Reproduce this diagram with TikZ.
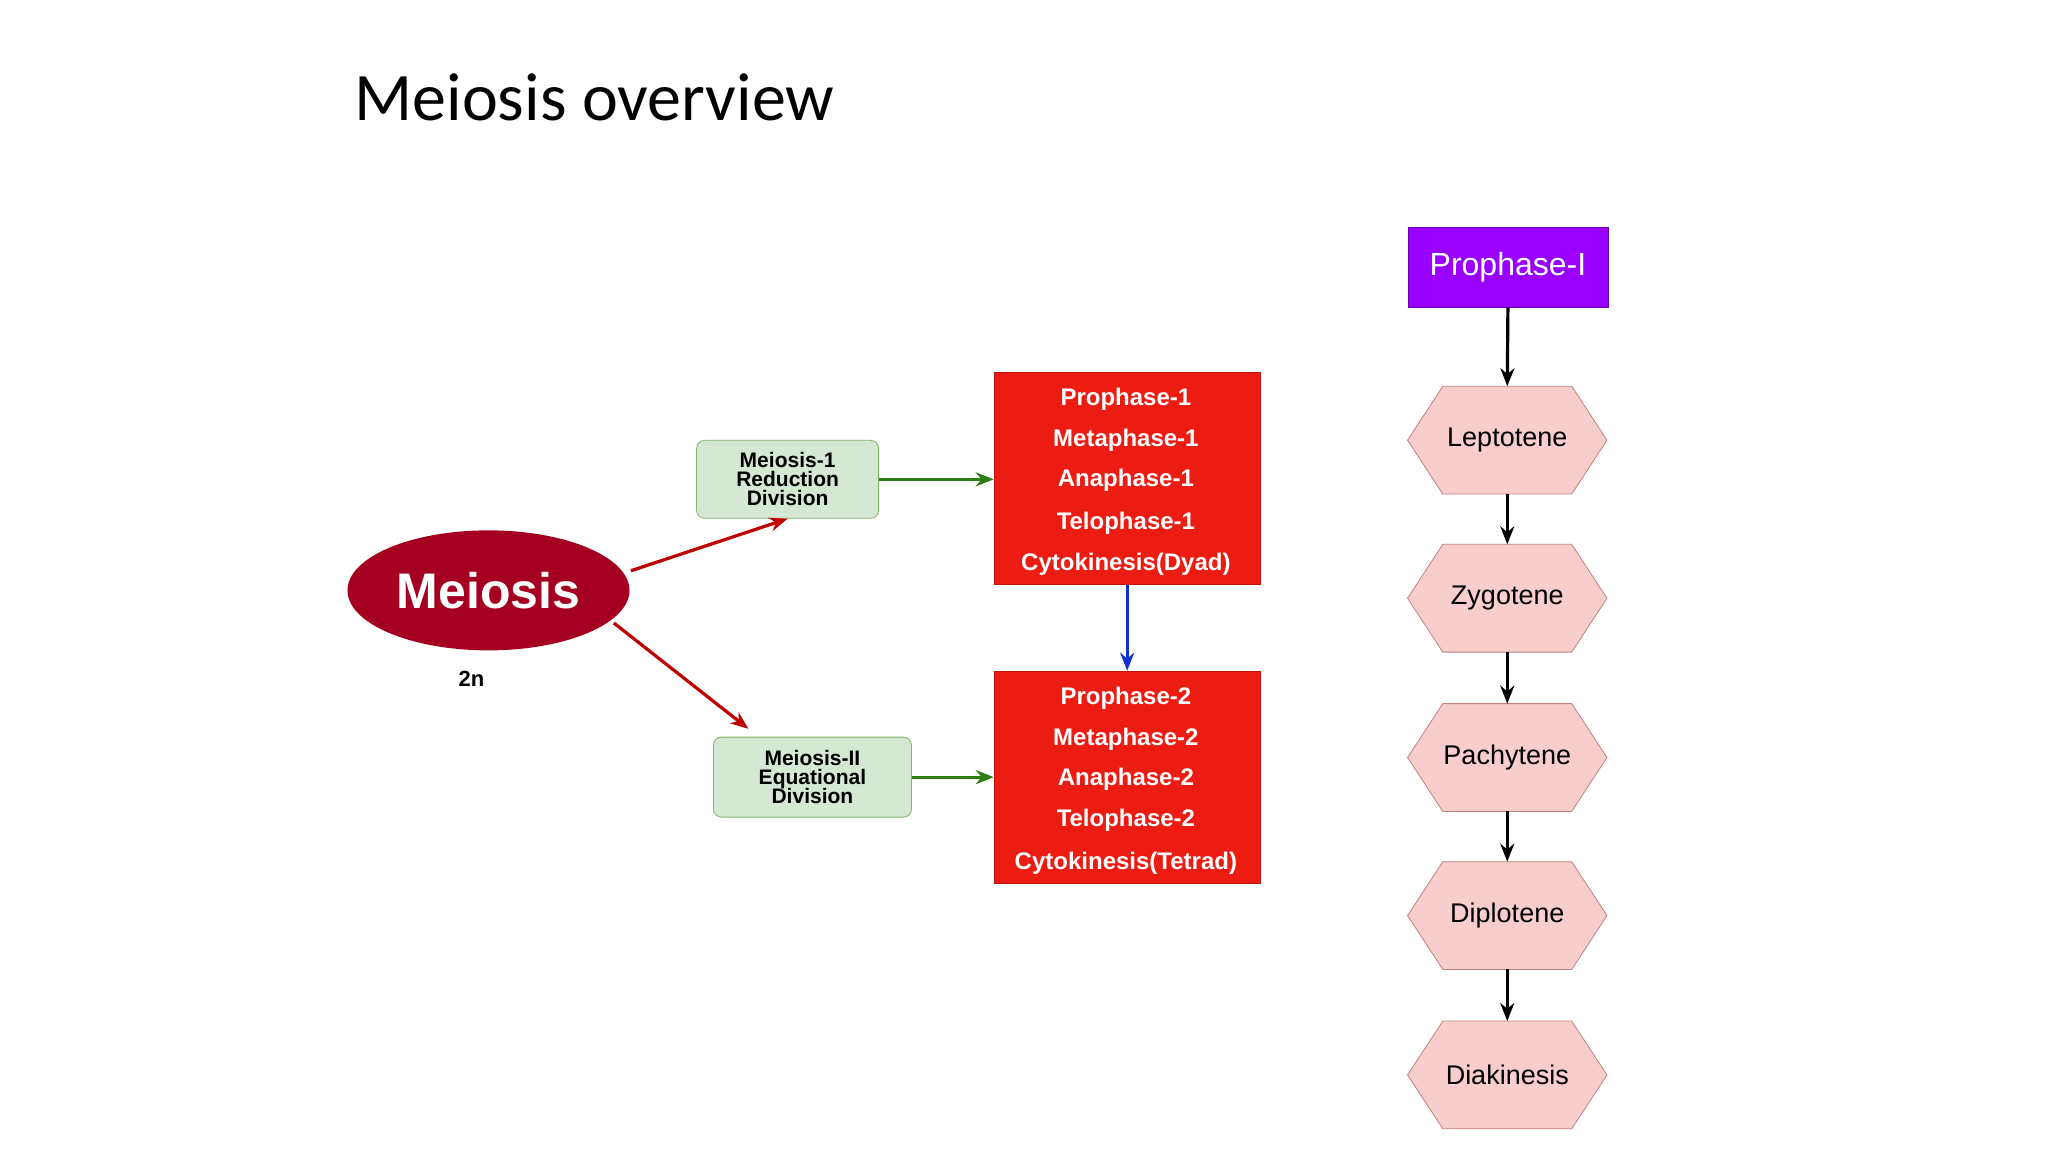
\documentclass[tikz,border=0pt]{standalone}
\usepackage{fontspec}
\setmainfont{Liberation Sans}
\newfontfamily\titlefont{Carlito}
\usetikzlibrary{shapes.geometric,arrows.meta,calc}
\definecolor{mred}{HTML}{A50021}
\definecolor{bred}{HTML}{EC1C12}
\definecolor{gfill}{HTML}{D5E8D4}
\definecolor{gdraw}{HTML}{82B366}
\definecolor{hfill}{HTML}{F8CECC}
\definecolor{hdraw}{HTML}{C08080}
\definecolor{purp}{HTML}{9900FF}
\definecolor{garrow}{HTML}{2E7D10}
\definecolor{barrow}{HTML}{1030D0}
\begin{document}
\begin{tikzpicture}[x=0.653pt,y=-0.653pt,
  box/.style={draw=none,inner sep=0,font=\bfseries},
  gbox/.style={draw=gdraw,fill=gfill,rounded corners=4pt,align=center,font=\bfseries\fontsize{10.5}{10.5}\selectfont,inner sep=0},
  hex/.style={draw=none,inner sep=0,minimum width=99.3pt,minimum height=53.5pt,font=\fontsize{13.5}{14}\selectfont},
  arr/.style={-{Stealth[length=9pt,width=7pt]},line width=1.6pt},
  ltxt/.style={text=white,font=\bfseries\fontsize{12}{12}\selectfont}]
\useasboundingbox (0,0) rectangle (1568,882);
\node[anchor=base west,font=\titlefont\fontsize{34}{34}\selectfont] (title) at (266,92) {Meiosis overview};
% ellipse
\node[ellipse,fill=mred,minimum width=141pt,minimum height=60pt,text=white,font=\bfseries\fontsize{25}{25}\selectfont] (meiosis) at (374,452) {Meiosis};
\node[font=\bfseries\fontsize{11}{11}\selectfont] (twon) at (361,520) {2n};
% green boxes
\node[gbox,minimum width=91pt,minimum height=39pt] (m1) at (603,367) {Meiosis-1\\[-1pt]Reduction\\[-1pt]Division};
\node[gbox,minimum width=99pt,minimum height=40pt] (m2) at (622,595) {Meiosis-II\\[-1pt]Equational\\[-1pt]Division};
% red boxes
\node[fill=bred,draw=bred!80!black,minimum width=133pt,minimum height=106pt,inner sep=0] (r1) at (863,366.5) {};
\node[fill=bred,draw=bred!80!black,minimum width=133pt,minimum height=106pt,inner sep=0] (r2) at (863,595) {};
\foreach \t/\y in {Prophase-1/306,Metaphase-1/337,Anaphase-1/368,Telophase-1/401,Cytokinesis(Dyad)/432}
  \node[ltxt] at (862,\y) {\t};
\foreach \t/\y in {Prophase-2/535,Metaphase-2/566,Anaphase-2/597,Telophase-2/628,Cytokinesis(Tetrad)/661}
  \node[ltxt] at (862,\y) {\t};
% arrows left
\draw[arr,red!75!black] (483,437) -- (m1.south);
\draw[arr,red!75!black] (470,477) -- (573,558);
\draw[arr,garrow] (m1.east) -- (r1.west|-m1.east);
\draw[arr,garrow] (m2.east) -- (r2.west|-m2.east);
\draw[arr,barrow] (r1.south) -- (r2.north);
% right column
\node[fill=purp,draw=purp!70!black,minimum width=100pt,minimum height=40pt,text=white,font=\fontsize{16}{16}\selectfont,inner sep=0] (p1) at (1154.5,204.5) {Prophase-I};
\foreach \n/\t/\y in {le/Leptotene/337,zy/Zygotene/458,pa/Pachytene/580,di/Diplotene/701,dk/Diakinesis/823}{
  \node[hex] (\n) at (1154,\y) {\t};
  \draw[draw=hdraw,fill=hfill] (\n.west) -- ($(\n.north west)+(27,0)$) -- ($(\n.north east)+(-27,0)$) -- (\n.east) -- ($(\n.south east)+(-27,0)$) -- ($(\n.south west)+(27,0)$) -- cycle;
  \node[hex] at (\n) {\t};
}
\draw[arr,black] (p1.south) -- (le.north);
\draw[arr,black] (le.south) -- (zy.north);
\draw[arr,black] (zy.south) -- (pa.north);
\draw[arr,black] (pa.south) -- (di.north);
\draw[arr,black] (di.south) -- (dk.north);
\end{tikzpicture}
\end{document}
